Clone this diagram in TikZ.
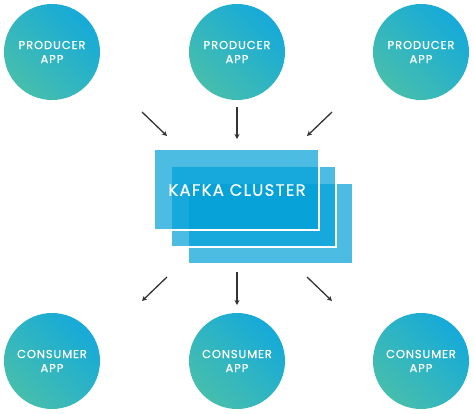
\documentclass[tikz,border=0pt]{standalone}
\usepackage{fontspec}
\setmainfont{Poppins}[LetterSpace=8, FakeBold=0.5]
\usetikzlibrary{arrows.meta}
\definecolor{tealc}{HTML}{46BEAD}
\definecolor{bluec}{HTML}{16AAD9}
\definecolor{kblue}{HTML}{00A0D7}
\definecolor{arrc}{HTML}{333333}
\begin{document}
\begin{tikzpicture}[x=1pt,y=-1pt,
  app/.style={circle, minimum size=96pt, inner sep=0pt, left color=bluec, right color=tealc, shading angle=-45,
    text=white, font=\fontsize{11.5}{14}\selectfont, align=center},
  layer/.style={rectangle, minimum width=164pt, minimum height=80pt, inner sep=0pt, fill=kblue, fill opacity=0.7, text opacity=1},
  edge/.style={white, line width=1.6pt},
  arr/.style={arrc, line width=1.3pt, -{Stealth[length=5pt,width=5pt]}}]
\useasboundingbox (0,0) rectangle (474,414);
% producers
\node[app] (p1) at (52,52) {PRODUCER\\APP};
\node[app] (p2) at (237,52) {PRODUCER\\APP};
\node[app] (p3) at (421,52) {PRODUCER\\APP};
% consumers
\node[app] (c1) at (52,361) {CONSUMER\\APP};
\node[app] (c2) at (237,361) {CONSUMER\\APP};
\node[app] (c3) at (421,361) {CONSUMER\\APP};
% cluster layers
\node[layer] (r3) at (271,224) {};
\draw[edge] (r3.north east) -- (r3.south east) -- (r3.south west);
\node[layer] (r2) at (254,207) {};
\draw[edge] (r2.north east) -- (r2.south east) -- (r2.south west);
\node[layer, text=white, font=\fontsize{16.5}{17}\selectfont] (r1) at (237,190) {KAFKA CLUSTER};
\draw[edge] (r1.north east) -- (r1.south east) -- (r1.south west);
% arrow ends
\coordinate (a1s) at (142,112); \coordinate (a1e) at (167,136);
\coordinate (a2s) at (237,107); \coordinate (a2e) at (237,139);
\coordinate (a3s) at (332,112); \coordinate (a3e) at (307,136);
\coordinate (b1s) at (167,277); \coordinate (b1e) at (142,301);
\coordinate (b2s) at (237,272); \coordinate (b2e) at (237,305);
\coordinate (b3s) at (307,277); \coordinate (b3e) at (332,301);
\draw[arr] (a1s) -- (a1e);
\draw[arr] (a2s) -- (a2e);
\draw[arr] (a3s) -- (a3e);
\draw[arr] (b1s) -- (b1e);
\draw[arr] (b2s) -- (b2e);
\draw[arr] (b3s) -- (b3e);
\end{tikzpicture}
\end{document}
